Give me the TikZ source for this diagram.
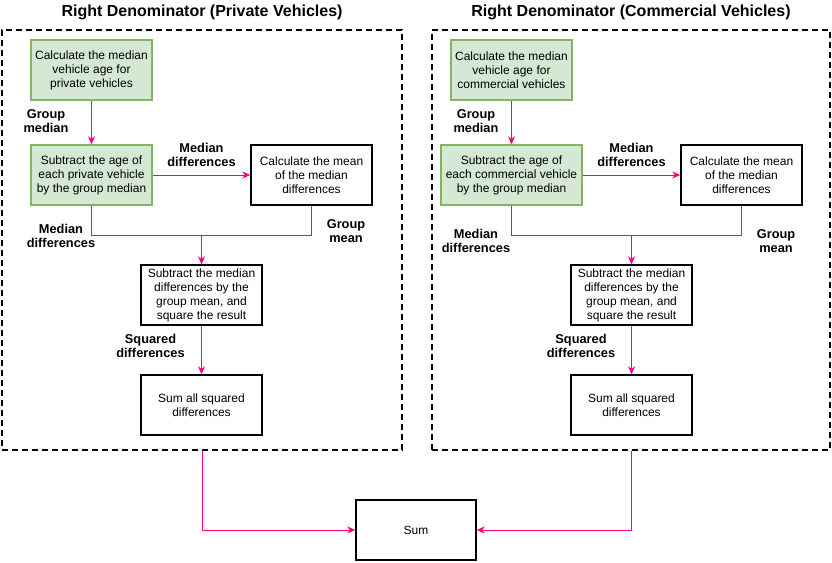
\documentclass[tikz,border=0pt]{standalone}
\usepackage{fontspec}
\setmainfont{Liberation Sans}
\usepackage{tikz}
\usetikzlibrary{arrows.meta, positioning}
\definecolor{stepgreen}{HTML}{D5E8D4}
\definecolor{stepedge}{HTML}{82B366}
\definecolor{flowpink}{HTML}{FF0080}
\tikzstyle{greenstep} = [rectangle, minimum width=121pt, minimum height=60pt, inner sep=2pt, align=center, draw=stepedge, fill=stepgreen, line width=1.4pt, font=\fontsize{12}{14}\selectfont]
\tikzstyle{whitestep} = [rectangle, minimum width=121pt, minimum height=60pt, inner sep=2pt, align=center, draw=black, fill=white, line width=1.4pt, font=\fontsize{12}{14}\selectfont]
\tikzstyle{groupbox} = [rectangle, draw=black, dash pattern=on 6pt off 4pt, line width=1.4pt, minimum height=420pt]
\tikzstyle{heading} = [font=\fontsize{16}{19}\selectfont\bfseries]
\tikzstyle{flowlabel} = [align=center, inner sep=0pt, font=\fontsize{12.8}{14.7}\selectfont\bfseries]
\tikzstyle{arrow} = [draw=flowpink, line width=0.9pt, -{Stealth[length=8pt,width=7pt,inset=2.5pt]}]
\tikzstyle{link} = [draw=flowpink, line width=0.9pt]

\begin{document}
\begin{tikzpicture}[x=1pt, y=-1pt, node distance=105pt]
        \useasboundingbox (0,0) rectangle (832,562);
        \node (boxpriv) [groupbox, minimum width=400pt] at (202,240) {};
        \node (boxcomm) [groupbox, minimum width=398pt] at (631,240) {};
        \node (headpriv) [heading] at (202,12) {Right Denominator (Private Vehicles)};
        \node (headcomm) [heading] at (631,12) {Right Denominator (Commercial Vehicles)};

        \node (calcpriv) [greenstep] at (91.5,70) {Calculate the median\\vehicle age for\\private vehicles};
        \node (subpriv) [greenstep, below of=calcpriv] {Subtract the age of\\each private vehicle\\by the group median};
        \node (meanpriv) [whitestep, right of=subpriv, node distance=220pt] {Calculate the mean\\of the median\\differences};
        \node (diffpriv) [whitestep, below of=subpriv, node distance=120pt, xshift=110pt] {Subtract the median\\differences by the\\group mean, and\\square the result};
        \node (sumpriv) [whitestep, below of=diffpriv, node distance=110pt] {Sum all squared\\differences};

        \node (calccomm) [greenstep] at (511.5,70) {Calculate the median\\vehicle age for\\commercial vehicles};
        \node (subcomm) [greenstep, below of=calccomm, minimum width=141pt] {Subtract the age of\\each commercial vehicle\\by the group median};
        \node (meancomm) [whitestep, right of=subcomm, node distance=230pt] {Calculate the mean\\of the median\\differences};
        \node (diffcomm) [whitestep, below of=subcomm, node distance=120pt, xshift=120pt] {Subtract the median\\differences by the\\group mean, and\\square the result};
        \node (sumcomm) [whitestep, below of=diffcomm, node distance=110pt] {Sum all squared\\differences};

        \node (total) [whitestep, minimum width=120pt] at (416,530) {Sum};

        \node (gmedpriv) [flowlabel] at (46,121) {Group\\median};
        \node (mdiffpriv) [flowlabel] at (201.5,155) {Median\\differences};
        \node (mdiffprivb) [flowlabel] at (61,236) {Median\\differences};
        \node (gmeanpriv) [flowlabel] at (346,231) {Group\\mean};
        \node (sqpriv) [flowlabel] at (150.5,346) {Squared\\differences};

        \node (gmedcomm) [flowlabel] at (476,121) {Group\\median};
        \node (mdiffcomm) [flowlabel] at (631.5,155) {Median\\differences};
        \node (mdiffcommb) [flowlabel] at (476,241) {Median\\differences};
        \node (gmeancomm) [flowlabel] at (776,241) {Group\\mean};
        \node (sqcomm) [flowlabel] at (581,346) {Squared\\differences};

        \draw [arrow] (calcpriv) -- (subpriv);
        \draw [arrow] (subpriv) -- (meanpriv);
        \draw [arrow] (subpriv.south) -- ++(0,30) -| (diffpriv.north);
        \draw [link] (meanpriv.south) -- ++(0,30) -| (diffpriv.north);
        \draw [arrow] (diffpriv) -- (sumpriv);

        \draw [arrow] (calccomm) -- (subcomm);
        \draw [arrow] (subcomm) -- (meancomm);
        \draw [arrow] (subcomm.south) -- ++(0,30) -| (diffcomm.north);
        \draw [link] (meancomm.south) -- ++(0,30) -| (diffcomm.north);
        \draw [arrow] (diffcomm) -- (sumcomm);

        \draw [arrow] (boxpriv.south) |- (total.west);
        \draw [arrow] (boxcomm.south) |- (total.east);
\end{tikzpicture}
\end{document}
